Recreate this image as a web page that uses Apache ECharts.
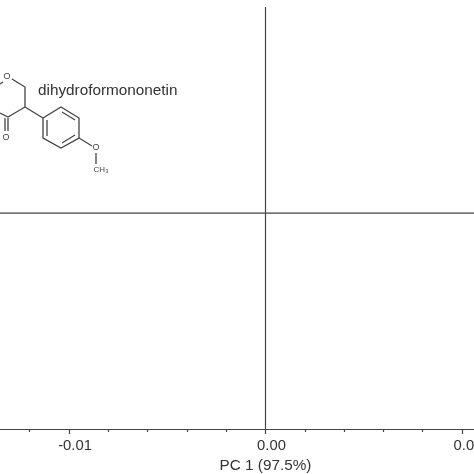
<!DOCTYPE html>
<html>
<head>
<meta charset="utf-8">
<style>html,body{margin:0;padding:0;background:#fff}#chart{width:474px;height:474px}</style>
<script src="https://cdn.jsdelivr.net/npm/echarts@6/dist/echarts.min.js"></script>
</head>
<body>
<div id="chart"></div>
<script>
// axis ranges, the outer ticks fall outside the window
var xMin = -0.02, xMax = 0.02, xStep = 0.01;
var yMin = -0.011, yMax = 0.0105;
var xName = 'PC 1 (97.5%)';
var compoundName = 'dihydroformononetin';
var zeroLineH = [[xMin, 0], [xMax, 0]];
var zeroLineV = [[0, yMin], [0, yMax]];

var inkColor = '#444';
var textColor = '#333';
var fontName = '"Liberation Sans", Arial, sans-serif';

// structure sketch, in pixels
var bonds = [
  [[0, 84], [3, 82]],
  [[12, 79], [25, 87], [25, 107], [8, 117], [0, 113]],
  [[5, 118], [5, 131]],
  [[8, 118], [8, 131]],
  [[25, 107], [43, 118]],
  [[43, 118], [61, 107], [79, 118], [79, 138], [61, 148], [43, 138], [43, 118]],
  [[47, 120], [47, 136]],
  [[62, 112], [75, 120]],
  [[62, 143], [75, 135]],
  [[79, 138], [92, 146]],
  [[96, 153], [96, 164]]
];
var atoms = [
  { t: 'O', x: 7, y: 77, s: 9 },
  { t: 'O', x: 6, y: 138, s: 9 },
  { t: 'O', x: 96, y: 148, s: 9 },
  { t: 'CH₃', x: 101, y: 170, s: 8 }
];

var graphics = bonds.map(function (b) {
  return {
    type: 'polyline',
    silent: true,
    shape: { points: b },
    style: { fill: null, stroke: inkColor, lineWidth: 1.3 }
  };
}).concat(atoms.map(function (a) {
  return {
    type: 'text',
    silent: true,
    x: a.x,
    y: a.y,
    style: { text: a.t, fill: inkColor, font: a.s + 'px ' + fontName, align: 'center', verticalAlign: 'middle' }
  };
}));
graphics.push({
  type: 'text',
  silent: true,
  x: 38,
  y: 91,
  style: { text: compoundName, fill: textColor, font: '15.3px ' + fontName, align: 'left', verticalAlign: 'middle' }
});

function zeroSeries(data) {
  return {
    type: 'line',
    data: data,
    symbol: 'none',
    silent: true,
    animation: false,
    lineStyle: { color: inkColor, width: 1.2 }
  };
}

var chart = echarts.init(document.getElementById('chart'), null, { renderer: 'canvas' });
chart.setOption({
  animation: false,
  grid: { left: -127.5, right: -184.5, top: 7, bottom: 45, outerBoundsMode: 'none' },
  xAxis: {
    type: 'value',
    min: xMin,
    max: xMax,
    interval: xStep,
    name: xName,
    nameLocation: 'middle',
    nameGap: 29,
    nameTextStyle: { color: textColor, fontSize: 15.3, fontFamily: fontName },
    axisLine: { onZero: false, lineStyle: { color: inkColor, width: 1.2 } },
    axisTick: { show: true, length: 5, lineStyle: { color: inkColor, width: 1.2 } },
    minorTick: { show: true, splitNumber: 5, length: 3, lineStyle: { color: inkColor, width: 1.2 } },
    splitLine: { show: false },
    axisLabel: {
      color: textColor,
      fontSize: 14.8,
      fontFamily: fontName,
      margin: 9,
      padding: [0, 0, 0, 12],
      formatter: function (v) { return v.toFixed(2); }
    }
  },
  yAxis: {
    type: 'value',
    min: yMin,
    max: yMax,
    show: false
  },
  series: [zeroSeries(zeroLineH), zeroSeries(zeroLineV)],
  graphic: graphics
});
</script>
</body>
</html>
